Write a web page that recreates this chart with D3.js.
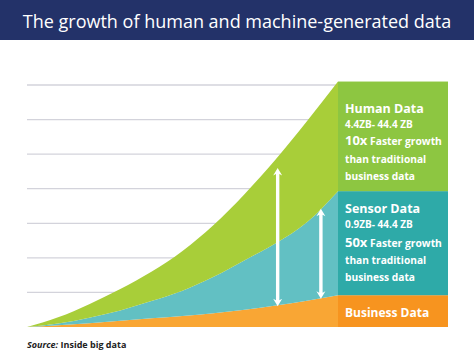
<!DOCTYPE html>
<html>
<head>
<meta charset="utf-8">
<script src="https://cdn.jsdelivr.net/npm/d3@7"></script>
<style>
  html, body { margin: 0; padding: 0; background: #fff; }
  svg { display: block; font-family: "Open Sans", "Noto Sans", sans-serif; }
</style>
</head>
<body>
<div id="chart"></div>
<script>
// values (units = grid spacing)
const steps = [0, 1, 2, 3, 4, 5, 6, 7, 8, 9, 10];
const business = [0, 0.05, 0.11, 0.18, 0.25, 0.32, 0.40, 0.50, 0.62, 0.76, 0.92];
const sensor = [0, 0.05, 0.16, 0.30, 0.50, 0.73, 1.05, 1.43, 1.80, 2.27, 3.01];
const human = [0, 0.18, 0.39, 0.62, 0.85, 1.15, 1.50, 1.92, 2.43, 2.92, 3.17];
const gridValues = [1, 2, 3, 4, 5, 6, 7];
const seriesKeys = ["business", "sensor", "human"];

// double arrows: x in steps, from/to in value units
const arrows = [
  { x: 8.06, from: 0.6, to: 4.6 },
  { x: 9.45, from: 0.82, to: 3.42 }
];

const labels = {
  human: [["Human Data"], ["4.4ZB- 44.4 ZB"], ["10x", " Faster growth"], ["than traditional"], ["business data"]],
  sensor: [["Sensor Data"], ["0.9ZB- 44.4 ZB"], ["50x", " Faster growth"], ["than traditional"], ["business data"]],
  business: [["Business Data"]]
};

(() => {
  const W = 474, H = 357;
  const areaFill = { business: "#f9a634", sensor: "#62c0c3", human: "#a8ce39" };
  const panelFill = { business: "#f7941f", sensor: "#2eaaa8", human: "#8dc641" };

  const svg = d3.select("#chart").append("svg")
    .attr("width", W).attr("height", H);

  // title bar
  svg.append("rect").attr("width", W).attr("height", 40).attr("fill", "#233269");
  svg.append("text")
    .attr("x", 237).attr("y", 27.5)
    .attr("text-anchor", "middle")
    .attr("fill", "#fff")
    .style("font-size", "18px")
    .text("The growth of human and machine-generated data");

  const x = d3.scaleLinear().domain([0, 10]).range([27, 338]);
  const y = d3.scaleLinear().domain([0, 7]).range([327, 85]);

  // grid
  svg.append("g").selectAll("line")
    .data(gridValues)
    .join("line")
    .attr("x1", x(0)).attr("x2", x(10))
    .attr("y1", d => y(d)).attr("y2", d => y(d))
    .attr("stroke", "#d3d3db")
    .attr("stroke-width", 1.3);

  const rows = steps.map((s, i) => ({
    step: s, business: business[i], sensor: sensor[i], human: human[i]
  }));
  const stacked = d3.stack().keys(seriesKeys)(rows);

  const area = d3.area()
    .x(d => x(d.data.step))
    .y0(d => y(d[0]))
    .y1(d => y(d[1]))
    .curve(d3.curveMonotoneX);

  svg.append("g").selectAll("path")
    .data(stacked)
    .join("path")
    .attr("fill", d => areaFill[d.key])
    .attr("d", area);

  // arrows
  const ag = svg.append("g").attr("fill", "#fff");
  arrows.forEach(a => {
    const cx = x(a.x), y1 = y(a.to), y2 = y(a.from);
    const hw = 4.5, hl = 7.5, sw = 1.7;
    ag.append("path").attr("d",
      `M${cx},${y1} L${cx + hw},${y1 + hl} L${cx + sw},${y1 + hl - 1.5} L${cx + sw},${y2 - hl + 1.5} ` +
      `L${cx + hw},${y2 - hl} L${cx},${y2} L${cx - hw},${y2 - hl} L${cx - sw},${y2 - hl + 1.5} ` +
      `L${cx - sw},${y1 + hl - 1.5} L${cx - hw},${y1 + hl} Z`);
  });

  // side panels, stacked like the areas at the last step
  const last = stacked.map(s => ({ key: s.key, y0: s[s.length - 1][0], y1: s[s.length - 1][1] }));
  const px0 = x(10), px1 = 448;
  const pg = svg.append("g");
  pg.selectAll("rect")
    .data(last)
    .join("rect")
    .attr("x", px0).attr("width", px1 - px0)
    .attr("y", d => y(d.y1)).attr("height", d => y(d.y0) - y(d.y1))
    .attr("fill", d => panelFill[d.key]);

  const tx = 345;
  function writeLines(key, baselines, sizes) {
    const t = svg.append("g").attr("fill", "#fff").style("font-weight", 700);
    labels[key].forEach((parts, i) => {
      const el = t.append("text").attr("x", tx).attr("y", baselines[i]);
      parts.forEach((p, j) => {
        el.append("tspan")
          .style("font-size", (j === 0 && parts.length > 1 ? 13 : sizes[i]) + "px")
          .text(p);
      });
    });
  }
  writeLines("human", [112.5, 127.5, 144.5, 163, 180], [12.5, 10, 10.3, 10.2, 10.2]);
  writeLines("sensor", [212.5, 228, 246.5, 263.5, 280.5], [12.5, 10, 10.3, 10.2, 10.2]);
  writeLines("business", [316.5], [12]);

  // source
  const src = svg.append("text")
    .attr("x", 27).attr("y", 347.5)
    .attr("fill", "#222")
    .style("font-size", "9px")
    .style("font-weight", 700);
  src.append("tspan").style("font-style", "italic").text("Source:");
  src.append("tspan").text(" Inside big data");
})();
</script>
</body>
</html>
